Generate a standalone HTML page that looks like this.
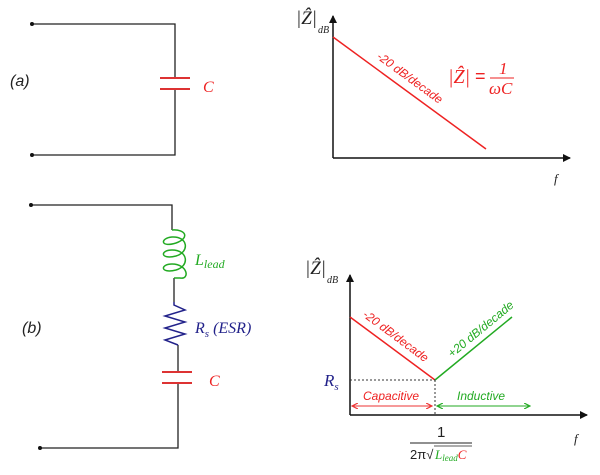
<!DOCTYPE html>
<html><head><style>
html,body{margin:0;padding:0;background:#fff;}
svg{display:block;}
text{font-family:"Liberation Sans",sans-serif;}
.m{font-family:"Liberation Serif",serif;font-style:italic;}
</style></head><body>
<svg width="600" height="475" viewBox="0 0 600 475" xmlns="http://www.w3.org/2000/svg">
<defs>
<marker id="ak" markerWidth="8" markerHeight="8" refX="7" refY="4" orient="auto" markerUnits="userSpaceOnUse"><path d="M0,0 L8,4 L0,8 z" fill="#111"/></marker>
<marker id="ar" markerWidth="7" markerHeight="6" refX="6" refY="3" orient="auto-start-reverse" markerUnits="userSpaceOnUse"><path d="M0,0 L6,3 L0,6" fill="none" stroke="#e33" stroke-width="1.2"/></marker>
<marker id="ag" markerWidth="7" markerHeight="6" refX="6" refY="3" orient="auto-start-reverse" markerUnits="userSpaceOnUse"><path d="M0,0 L6,3 L0,6" fill="none" stroke="#2a2" stroke-width="1.2"/></marker>
</defs>
<g stroke="#222" stroke-width="1.3" fill="none">
<polyline points="32,24 175,24 175,78"/>
<polyline points="175,89 175,155 32,155"/>
</g>
<circle cx="32" cy="24" r="2" fill="#111"/><circle cx="32" cy="155" r="2" fill="#111"/>
<g stroke="#d33" stroke-width="2"><line x1="160" y1="78" x2="190" y2="78"/><line x1="160" y1="89" x2="190" y2="89"/></g>
<text x="203" y="92" class="m" font-size="16" fill="#e22">C</text>
<text x="10" y="86" font-size="16" font-style="italic" fill="#222">(a)</text>

<line x1="333" y1="158" x2="333" y2="16" stroke="#111" stroke-width="1.5" marker-end="url(#ak)"/>
<line x1="333" y1="158" x2="570" y2="158" stroke="#111" stroke-width="1.5" marker-end="url(#ak)"/>
<line x1="333" y1="37" x2="486" y2="149" stroke="#e22" stroke-width="1.5"/>
<text x="0" y="0" font-size="12" font-style="italic" fill="#e22" transform="translate(376,58) rotate(36.2)">-20 dB/decade</text>
<text x="296" y="24" class="m" font-size="19" fill="#222">|Ẑ|</text>
<text x="318" y="33" class="m" font-size="10" fill="#222">dB</text>
<text x="448" y="83" class="m" font-size="20" fill="#e22">|Ẑ|</text>
<text x="475" y="82" font-family="Liberation Serif" font-size="18" fill="#e22">=</text>
<text x="499" y="74" class="m" font-size="17" fill="#e22">1</text>
<line x1="490" y1="78" x2="514" y2="78" stroke="#e22" stroke-width="1"/>
<text x="489" y="94" class="m" font-size="17" fill="#e22">ωC</text>
<text x="554" y="183" class="m" font-size="13" fill="#222">f</text>

<g stroke="#222" stroke-width="1.3" fill="none">
<polyline points="31,205 172,205 172,230"/>
<polyline points="174,278 174,302"/>
<polyline points="178,345 178,372"/>
<polyline points="178,383 178,448 40,448"/>
</g>
<circle cx="31" cy="205" r="2" fill="#111"/><circle cx="40" cy="448" r="2" fill="#111"/>
<path d="M172,230 C186,229 190,238 176,243 C160,248 160,238 172,237 C188,236 190,252 176,256 C160,260 160,250 172,250 C188,250 190,266 176,270 C160,274 160,264 172,264 C188,264 190,280 180,278 L174,278" fill="none" stroke="#2a2" stroke-width="1.5"/>
<path d="M174,302 L174,305 L185,310 L165,316 L185,322 L165,328 L185,334 L165,340 L178,345" fill="none" stroke="#22228a" stroke-width="1.5"/>
<g stroke="#d33" stroke-width="2"><line x1="162" y1="372" x2="192" y2="372"/><line x1="162" y1="383" x2="192" y2="383"/></g>
<text x="195" y="265" class="m" font-size="16" fill="#2a2">L<tspan font-size="12" dy="3">lead</tspan></text>
<text x="195" y="333" class="m" font-size="16" fill="#22228a">R<tspan font-size="11" dy="4">s</tspan><tspan dy="-4"> (ESR)</tspan></text>
<text x="209" y="386" class="m" font-size="16" fill="#e22">C</text>
<text x="22" y="333" font-size="16" font-style="italic" fill="#222">(b)</text>

<line x1="350" y1="415" x2="350" y2="275" stroke="#111" stroke-width="1.5" marker-end="url(#ak)"/>
<line x1="350" y1="415" x2="587" y2="415" stroke="#111" stroke-width="1.5" marker-end="url(#ak)"/>
<line x1="350" y1="317" x2="435" y2="380" stroke="#e22" stroke-width="1.5"/>
<line x1="435" y1="380" x2="512" y2="317" stroke="#2a2" stroke-width="1.5"/>
<g stroke="#333" stroke-width="1" stroke-dasharray="2,2"><line x1="350" y1="380" x2="435" y2="380"/><line x1="435" y1="380" x2="435" y2="415"/></g>
<text x="0" y="0" font-size="12" font-style="italic" fill="#e22" transform="translate(362,316) rotate(36.5)">-20 dB/decade</text>
<text x="0" y="0" font-size="12" font-style="italic" fill="#2a2" transform="translate(452,358) rotate(-39.5)">+20 dB/decade</text>
<line x1="352" y1="406" x2="432" y2="406" stroke="#e33" stroke-width="1" marker-start="url(#ar)" marker-end="url(#ar)"/>
<line x1="437" y1="406" x2="530" y2="406" stroke="#2a2" stroke-width="1" marker-start="url(#ag)" marker-end="url(#ag)"/>
<text x="363" y="400" font-size="12" font-style="italic" fill="#e22">Capacitive</text>
<text x="457" y="400" font-size="12" font-style="italic" fill="#2a2">Inductive</text>
<text x="324" y="386" class="m" font-size="17" fill="#22228a">R<tspan font-size="11" dy="4">s</tspan></text>
<text x="305" y="274" class="m" font-size="19" fill="#222">|Ẑ|</text>
<text x="327" y="283" class="m" font-size="10" fill="#222">dB</text>
<text x="437" y="437" font-family="Liberation Serif" font-size="15" fill="#222">1</text>
<line x1="410" y1="443" x2="472" y2="443" stroke="#222" stroke-width="1"/>
<text x="410" y="459" font-family="Liberation Serif" font-size="13" fill="#222">2π√</text>
<line x1="434" y1="446" x2="472" y2="446" stroke="#222" stroke-width="0.8"/>
<text x="435" y="459" class="m" font-size="13" fill="#2a2">L<tspan font-size="9" dy="2">lead</tspan><tspan dy="-2" fill="#e22">C</tspan></text>
<text x="574" y="443" class="m" font-size="13" fill="#222">f</text>
</svg>
</body></html>
